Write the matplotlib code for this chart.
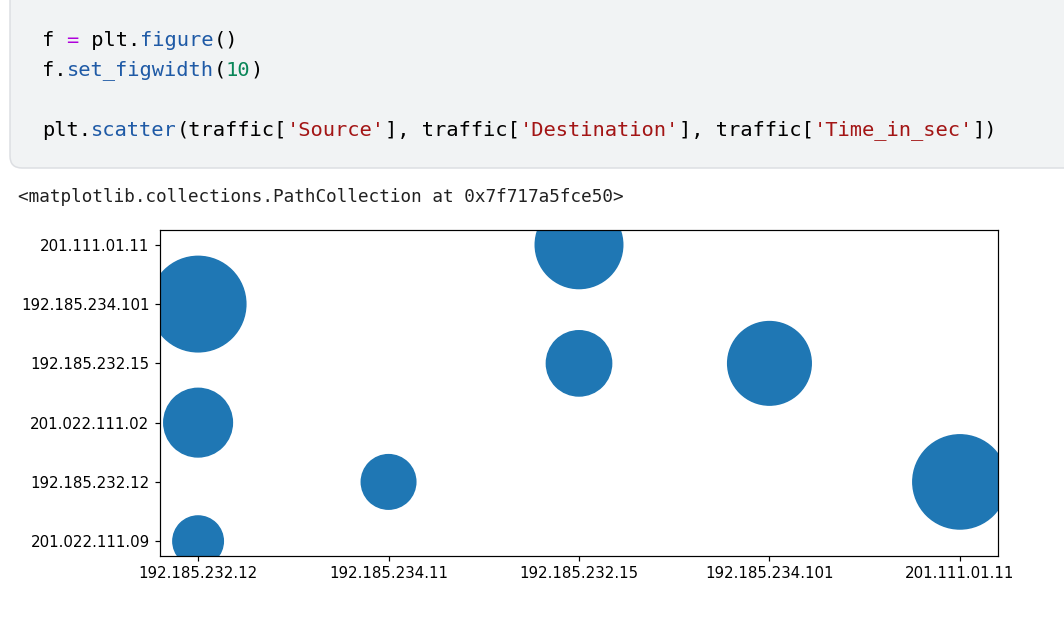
import pandas as pd
from matplotlib import pyplot as plt
from matplotlib.patches import FancyBboxPatch

# traffic table, rows in the order they appear (this fixes the category order)
source = ['192.185.232.12', '192.185.234.11', '192.185.232.12', '192.185.232.15',
          '192.185.234.101', '192.185.232.12', '192.185.232.15', '201.111.01.11']
destination = ['201.022.111.09', '192.185.232.12', '201.022.111.02', '192.185.232.15',
               '192.185.232.15', '192.185.234.101', '201.111.01.11', '192.185.232.12']
time_in_sec = [1130, 1320, 2090, 1890, 3100, 4050, 3400, 3940]

# notebook cell text
code_lines = [
    [("f ", '#000000'), ("=", '#af00db'), (" plt.", '#000000'), ("figure", '#1f5aa6'), ("()", '#000000')],
    [("f.", '#000000'), ("set_figwidth", '#1f5aa6'), ("(", '#000000'), ("10", '#098658'), (")", '#000000')],
    [],
    [("plt.", '#000000'), ("scatter", '#1f5aa6'), ("(traffic[", '#000000'), ("'Source'", '#a31515'),
     ("], traffic[", '#000000'), ("'Destination'", '#a31515'), ("], traffic[", '#000000'),
     ("'Time_in_sec'", '#a31515'), ("])", '#000000')],
]
output_line = "<matplotlib.collections.PathCollection at 0x7f717a5fce50>"

traffic = pd.DataFrame({'Source': source, 'Destination': destination, 'Time_in_sec': time_in_sec})

W, H, DPI = 1064, 617, 108
f = plt.figure(figsize=(W / DPI, H / DPI), dpi=DPI)

# background layer in pixel coordinates for the notebook cell
bg = f.add_axes([0, 0, 1, 1])
bg.set_xlim(0, W)
bg.set_ylim(H, 0)
bg.axis('off')
bg.add_patch(FancyBboxPatch((10, -40), 1100, 208, boxstyle='round,pad=0,rounding_size=12',
                            facecolor='#f1f3f4', edgecolor='#dcdee2', linewidth=1))

code_size = 13.6
for i, line in enumerate(code_lines):
    if not line:
        continue
    y = 46 + i * 30
    prev = None
    for tok, col in line:
        kw = dict(fontsize=code_size, family='DejaVu Sans Mono', color=col)
        if prev is None:
            prev = bg.text(42, y, tok, va='baseline', ha='left', **kw)
        else:
            # chain each token onto the right edge of the previous one
            prev = bg.annotate(tok, xy=(1, 0), xycoords=prev, va='bottom', ha='left', **kw)

bg.text(18, 202, output_line, fontsize=11.75, family='DejaVu Sans Mono', color='#212121',
        va='baseline', ha='left')

# the scatter plot itself
ax = f.add_axes([160 / W, (H - 556) / H, (998 - 160) / W, (556 - 230) / H])
ax.scatter(traffic['Source'], traffic['Destination'], traffic['Time_in_sec'])

f.savefig('out.png', dpi=DPI)
